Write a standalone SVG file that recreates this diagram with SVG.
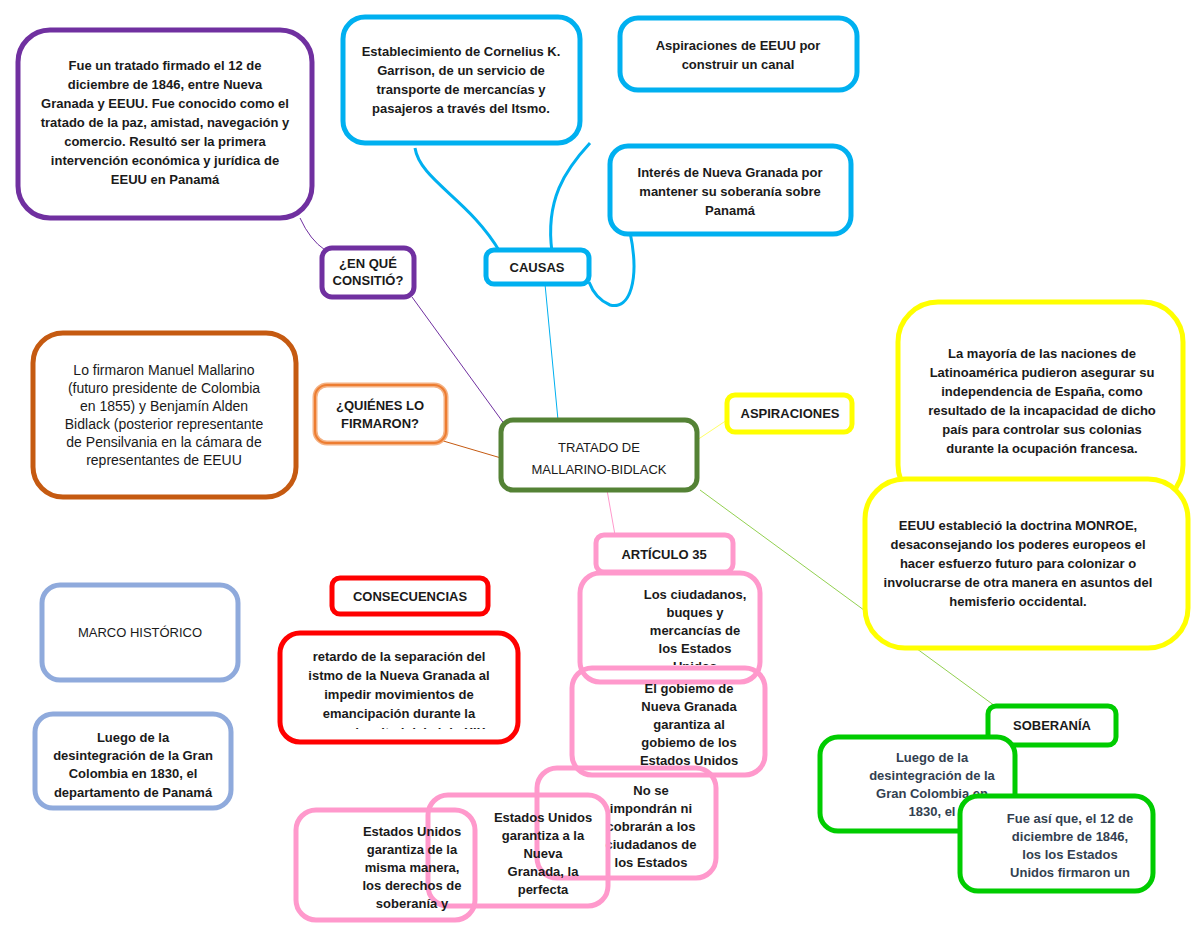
<svg xmlns="http://www.w3.org/2000/svg" width="1200" height="927" viewBox="0 0 1200 927">
<style>
.b{fill:#fff;stroke-width:5}
.t{font-family:"Liberation Sans Narrow","Liberation Sans",sans-serif;font-size:13px;font-weight:bold;fill:#1a1a1a;text-anchor:middle}
.n{font-family:"Liberation Sans",sans-serif;font-size:14px;fill:#1a1a1a;text-anchor:middle}
.g{fill:#333f50}
.c{fill:none;stroke-width:1}
</style>
<defs>
<clipPath id="cA"><rect x="580" y="573" width="180" height="92"/></clipPath>
<clipPath id="cB"><rect x="572" y="668" width="193" height="100"/></clipPath>
<clipPath id="cR"><rect x="280" y="633" width="238" height="96"/></clipPath>
<clipPath id="cG"><rect x="820" y="737" width="195" height="86"/></clipPath>
</defs>
<rect width="1200" height="927" fill="#fff"/>
<g id="connectors">
<path class="c" d="M505 425 L412 297" stroke="#7030a0"/>
<path class="c" d="M300 218 Q310 240 325 250" stroke="#7030a0"/>
<path class="c" d="M558 420 L545 284" stroke="#00b0f0"/>
<path class="c" d="M501 458 L440 440" stroke="#c55a11"/>
<path class="c" d="M697 440 L727 420" stroke="#ffff66"/>
<path class="c" d="M700 490 L995 706" stroke="#92d050"/>
<path class="c" d="M607 490 L615 535" stroke="#ff99cc"/>
</g>
<g id="n-purple"><rect class="b" x="18" y="30" width="294" height="188" rx="32" stroke="#7030a0"/>
<text class="t"><tspan x="165" y="70">Fue un tratado firmado el 12 de</tspan><tspan x="165" y="89">diciembre de 1846, entre Nueva</tspan><tspan x="165" y="108">Granada y EEUU. Fue conocido como el</tspan><tspan x="165" y="127">tratado de la paz, amistad, navegación y</tspan><tspan x="165" y="146">comercio. Resultó ser la primera</tspan><tspan x="165" y="165">intervención económica y jurídica de</tspan><tspan x="165" y="184">EEUU en Panamá</tspan></text></g>
<g id="n-enque"><rect class="b" x="322" y="248" width="92" height="49" rx="10" stroke="#7030a0"/>
<text class="t"><tspan x="368" y="268">¿EN QUÉ</tspan><tspan x="368" y="285">CONSITIÓ?</tspan></text></g>
<g id="n-causas-curves">
<path d="M415 148 C 420 180, 470 200, 500 252" fill="none" stroke="#00b0f0" stroke-width="3"/>
<path d="M590 143 C 565 170, 545 200, 552 252" fill="none" stroke="#00b0f0" stroke-width="3"/>
<path d="M630 232 C 640 280, 630 310, 610 305 C 598 300, 592 290, 589 282" fill="none" stroke="#00b0f0" stroke-width="3"/>
</g>
<g id="n-blue1"><rect class="b" x="343" y="17" width="237" height="126" rx="22" stroke="#00b0f0"/>
<text class="t"><tspan x="461" y="56">Establecimiento de Cornelius K.</tspan><tspan x="461" y="75">Garrison, de un servicio de</tspan><tspan x="461" y="94">transporte de mercancías y</tspan><tspan x="461" y="113">pasajeros a través del Itsmo.</tspan></text></g>
<g id="n-blue2"><rect class="b" x="620" y="18" width="237" height="72" rx="18" stroke="#00b0f0"/>
<text class="t"><tspan x="738" y="50">Aspiraciones de EEUU por</tspan><tspan x="738" y="69">construir un canal</tspan></text></g>
<g id="n-blue3"><rect class="b" x="610" y="146" width="241" height="88" rx="18" stroke="#00b0f0"/>
<text class="t"><tspan x="730" y="177">Interés de Nueva Granada por</tspan><tspan x="730" y="196">mantener su soberanía sobre</tspan><tspan x="730" y="215">Panamá</tspan></text></g>
<g id="n-causas"><rect class="b" x="486" y="250" width="103" height="34" rx="8" stroke="#00b0f0"/>
<text class="t" x="537" y="272">CAUSAS</text></g>
<g id="n-orange"><rect class="b" x="33" y="333" width="263" height="164" rx="30" stroke="#c55a11"/>
<text class="n"><tspan x="164" y="375">Lo firmaron Manuel Mallarino</tspan><tspan x="164" y="393">(futuro presidente de Colombia</tspan><tspan x="164" y="411">en 1855) y Benjamín Alden</tspan><tspan x="164" y="429">Bidlack (posterior representante</tspan><tspan x="164" y="447">de Pensilvania en la cámara de</tspan><tspan x="164" y="465">representantes de EEUU</tspan></text></g>
<g id="n-quienes"><rect class="b" x="315" y="385" width="131" height="58" rx="12" stroke="#f4b183" stroke-width="2"/>
<rect x="315" y="385" width="131" height="58" rx="12" fill="none" stroke="#ed7d31" stroke-width="2"/>
<text class="t"><tspan x="380" y="410">¿QUIÉNES LO</tspan><tspan x="380" y="428">FIRMARON?</tspan></text></g>
<g id="n-center"><rect class="b" x="501" y="420" width="196" height="70" rx="12" stroke="#548235"/>
<text class="n" style="font-size:13px"><tspan x="599" y="452">TRATADO DE</tspan><tspan x="599" y="474">MALLARINO-BIDLACK</tspan></text></g>
<g id="n-aspiraciones"><rect class="b" x="727" y="395" width="125" height="37" rx="8" stroke="#ffff00"/>
<text class="t" x="790" y="418">ASPIRACIONES</text></g>
<g id="n-yellow1"><rect class="b" x="898" y="302" width="285" height="203" rx="40" stroke="#ffff00"/>
<text class="t"><tspan x="1042" y="358">La mayoría de las naciones de</tspan><tspan x="1042" y="377">Latinoamérica pudieron asegurar su</tspan><tspan x="1042" y="396">independencia de España, como</tspan><tspan x="1042" y="415">resultado de la incapacidad de dicho</tspan><tspan x="1042" y="434">país para controlar sus colonias</tspan><tspan x="1042" y="453">durante la ocupación francesa.</tspan></text></g>
<g id="n-yellow2"><rect class="b" x="865" y="479" width="323" height="169" rx="40" stroke="#ffff00"/>
<text class="t"><tspan x="1018" y="530">EEUU estableció la doctrina MONROE,</tspan><tspan x="1018" y="549">desaconsejando los poderes europeos el</tspan><tspan x="1018" y="568">hacer esfuerzo futuro para colonizar o</tspan><tspan x="1018" y="587">involucrarse de otra manera en asuntos del</tspan><tspan x="1018" y="606">hemisferio occidental.</tspan></text></g>
<g id="n-art35"><rect class="b" x="596" y="535" width="137" height="37" rx="8" stroke="#ff99cc"/>
<text class="t" x="664" y="559">ARTÍCULO 35</text></g>
<g id="n-pinkA"><rect class="b" x="580" y="573" width="180" height="109" rx="20" stroke="#ff99cc"/>
<text class="t" clip-path="url(#cA)"><tspan x="695" y="599">Los ciudadanos,</tspan><tspan x="695" y="617">buques y</tspan><tspan x="695" y="635">mercancías de</tspan><tspan x="695" y="653">los Estados</tspan><tspan x="695" y="671">Unidos</tspan></text></g>
<g id="n-pinkB"><rect x="572" y="668" width="193" height="107" rx="20" fill="none" stroke="#ff99cc" stroke-width="5"/>
<text class="t" clip-path="url(#cB)"><tspan x="689" y="693">El gobiemo de</tspan><tspan x="689" y="711">Nueva Granada</tspan><tspan x="689" y="729">garantiza al</tspan><tspan x="689" y="747">gobiemo de los</tspan><tspan x="689" y="765">Estados Unidos</tspan></text></g>
<g id="n-pinkC"><rect x="537" y="768" width="179" height="110" rx="20" fill="none" stroke="#ff99cc" stroke-width="5"/>
<text class="t"><tspan x="651" y="795">No se</tspan><tspan x="651" y="813">impondrán ni</tspan><tspan x="651" y="831">cobrarán a los</tspan><tspan x="651" y="849">ciudadanos de</tspan><tspan x="651" y="867">los Estados</tspan></text></g>
<g id="n-pinkD"><rect x="428" y="795" width="180" height="111" rx="20" fill="none" stroke="#ff99cc" stroke-width="5"/>
<text class="t"><tspan x="543" y="822">Estados Unidos</tspan><tspan x="543" y="840">garantiza a la</tspan><tspan x="543" y="858">Nueva</tspan><tspan x="543" y="876">Granada, la</tspan><tspan x="543" y="894">perfecta</tspan></text></g>
<g id="n-pinkE"><rect x="296" y="810" width="179" height="110" rx="20" fill="none" stroke="#ff99cc" stroke-width="5"/>
<text class="t"><tspan x="412" y="836">Estados Unidos</tspan><tspan x="412" y="854">garantiza de la</tspan><tspan x="412" y="872">misma manera,</tspan><tspan x="412" y="890">los derechos de</tspan><tspan x="412" y="908">soberanía y</tspan></text></g>
<g id="n-consec"><rect class="b" x="332" y="578" width="156" height="36" rx="8" stroke="#ff0000"/>
<text class="t" x="410" y="601">CONSECUENCIAS</text></g>
<g id="n-red"><rect class="b" x="280" y="633" width="238" height="109" rx="20" stroke="#ff0000"/>
<text class="t" clip-path="url(#cR)"><tspan x="399" y="661">retardo de la separación del</tspan><tspan x="399" y="680">istmo de la Nueva Granada al</tspan><tspan x="399" y="699">impedir movimientos de</tspan><tspan x="399" y="718">emancipación durante la</tspan><tspan x="399" y="737">segunda mitad del siglo XIX</tspan></text></g>
<g id="n-marco"><rect class="b" x="42" y="585" width="196" height="95" rx="18" stroke="#8faadc"/>
<text class="n" style="font-size:13px" x="140" y="637">MARCO HISTÓRICO</text></g>
<g id="n-marco2"><rect class="b" x="35" y="714" width="196" height="94" rx="18" stroke="#8faadc"/>
<text class="t"><tspan x="133" y="742">Luego de la</tspan><tspan x="133" y="760">desintegración de la Gran</tspan><tspan x="133" y="778">Colombia en 1830, el</tspan><tspan x="133" y="797">departamento de Panamá</tspan></text></g>
<g id="n-soberania"><rect class="b" x="988" y="706" width="128" height="39" rx="8" stroke="#00cc00"/>
<text class="t" x="1052" y="730">SOBERANÍA</text></g>
<g id="n-green1"><rect class="b" x="820" y="737" width="195" height="94" rx="18" stroke="#00cc00"/>
<text class="t g" clip-path="url(#cG)"><tspan x="932" y="762">Luego de la</tspan><tspan x="932" y="780">desintegración de la</tspan><tspan x="932" y="798">Gran Colombia en</tspan><tspan x="932" y="816">1830, el</tspan></text></g>
<g id="n-green2"><rect class="b" x="960" y="796" width="193" height="95" rx="18" stroke="#00cc00"/>
<text class="t g"><tspan x="1070" y="823">Fue así que, el 12 de</tspan><tspan x="1070" y="841">diciembre de 1846,</tspan><tspan x="1070" y="859">los los Estados</tspan><tspan x="1070" y="877">Unidos firmaron un</tspan></text></g>
</svg>
